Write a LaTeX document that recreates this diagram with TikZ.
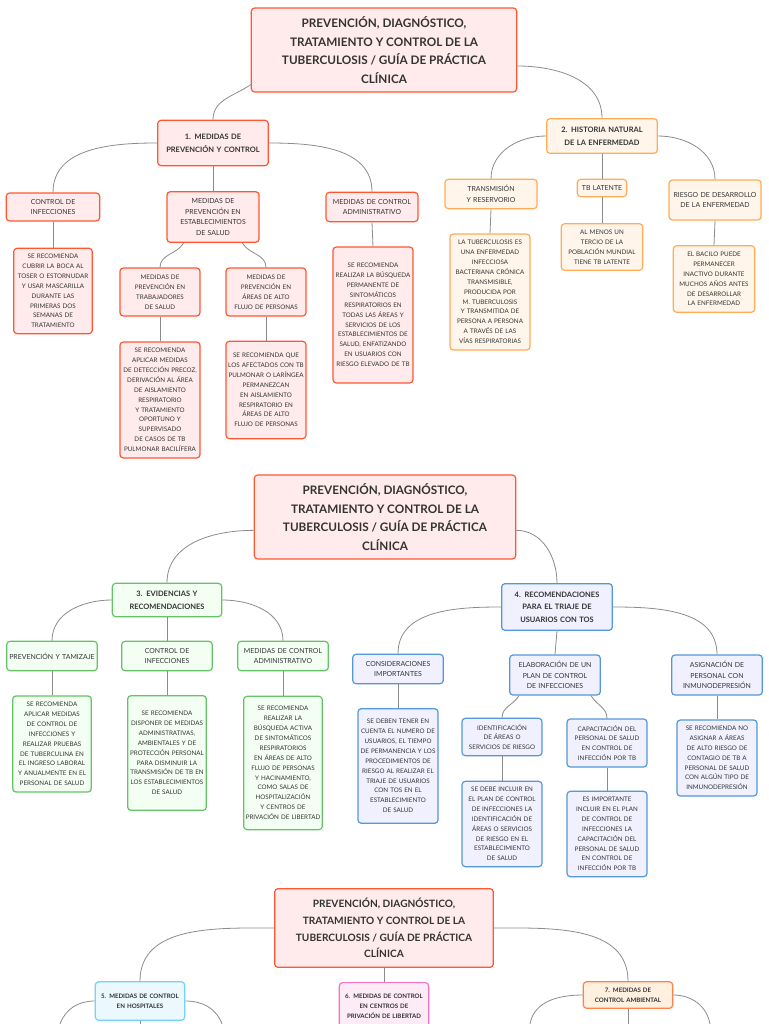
\documentclass[tikz,border=0pt]{standalone}
\usepackage{fontspec}
\setmainfont{Lato}
\hyphenpenalty=10000 \exhyphenpenalty=10000
\begin{document}
\begin{tikzpicture}[x=0.75pt,y=-0.75pt,
  base/.style={rectangle,rounded corners=2.5pt,line width=0.9pt,align=center,inner sep=1.5pt,text=black!80},
  red/.style={base,draw=red!65!orange!80,fill=red!8},
  org/.style={base,draw=orange!65,fill=orange!8},
  grn/.style={base,draw=green!60!black!60,fill=green!5},
  blu/.style={base,draw=cyan!60!blue!70,fill=blue!6},
  cya/.style={base,draw=cyan!55,fill=cyan!8},
  mag/.style={base,draw=magenta!55,fill=magenta!8},
  amb/.style={base,draw=orange!60!red!70,fill=orange!12},
  ttl/.style={font=\fontsize{8.8}{14}\selectfont\bfseries,minimum height=63pt},
  hd/.style={font=\fontsize{5.6}{9.5}\selectfont\bfseries,text width=72pt},
  lv/.style={font=\fontsize{5.2}{8}\selectfont,text width=#1},
  tx/.style={font=\fontsize{4.7}{7.4}\selectfont,text width=#1},
  conn/.style={draw=black!45,line width=0.6pt}]
\useasboundingbox[fill=white] (0,0) rectangle (768,1024);

% ===== Section 1 =====
\node[red,ttl,minimum width=199pt] (T1) at (384,50) {PREVENCIÓN, DIAGNÓSTICO,\\TRATAMIENTO Y CONTROL DE LA\\TUBERCULOSIS / GUÍA DE PRÁCTICA\\CLÍNICA};
\node[red,hd,minimum height=34pt,minimum width=83pt] (A1) at (213,143) {1. MEDIDAS DE PREVENCIÓN Y CONTROL};
\node[org,hd,minimum height=26pt,minimum width=83pt,text width=78pt] (A2) at (602,136) {2. HISTORIA NATURAL DE LA ENFERMEDAD};
\node[red,lv=62pt,minimum height=21pt,minimum width=70pt] (CI) at (53,207) {CONTROL DE INFECCIONES};
\node[red,lv=60pt,minimum height=38pt,minimum width=69pt] (MPE) at (213,217) {MEDIDAS DE PREVENCIÓN EN ESTABLECIMIENTOS DE SALUD};
\node[red,lv=66pt,minimum height=22pt] (MCA) at (372,207) {MEDIDAS DE CONTROL ADMINISTRATIVO};
\node[red,tx=56pt,minimum height=64pt] (CIc) at (53,291) {SE RECOMIENDA CUBRIR LA BOCA AL TOSER O ESTORNUDAR Y USAR MASCARILLA DURANTE LAS PRIMERAS DOS SEMANAS DE TRATAMIENTO};
\node[red,tx=52pt,minimum height=36pt,minimum width=60pt] (MPT) at (160,292) {MEDIDAS DE PREVENCIÓN EN TRABAJADORES DE SALUD};
\node[red,tx=57pt,minimum height=36pt] (MPA) at (266,292) {MEDIDAS DE PREVENCIÓN EN ÁREAS DE ALTO FLUJO DE PERSONAS};
\node[red,tx=57pt,minimum height=87pt] (MPTc) at (160,400) {SE RECOMIENDA APLICAR MEDIDAS DE DETECCIÓN PRECOZ, DERIVACIÓN AL ÁREA DE AISLAMIENTO RESPIRATORIO Y TRATAMIENTO OPORTUNO Y SUPERVISADO DE CASOS DE TB PULMONAR BACILÍFERA};
\node[red,tx=57pt,minimum height=73pt] (MPAc) at (266,390) {SE RECOMIENDA QUE LOS AFECTADOS CON TB PULMONAR O LARÍNGEA PERMANEZCAN EN AISLAMIENTO RESPIRATORIO EN ÁREAS DE ALTO FLUJO DE PERSONAS};
\node[red,tx=57pt,minimum height=102pt] (MCAc) at (373,315) {SE RECOMIENDA REALIZAR LA BÚSQUEDA PERMANENTE DE SINTOMÁTICOS RESPIRATORIOS EN TODAS LAS ÁREAS Y SERVICIOS DE LOS ESTABLECIMIENTOS DE SALUD, ENFATIZANDO EN USUARIOS CON RIESGO ELEVADO DE TB};
\node[org,lv=60pt,minimum height=22pt,minimum width=69pt] (TR) at (491,194) {TRANSMISIÓN Y RESERVORIO};
\node[org,lv=33pt,minimum height=13pt,minimum width=37pt] (TBL) at (602,188) {TB LATENTE};
\node[org,lv=66pt,minimum height=30pt] (RD) at (715,200) {RIESGO DE DESARROLLO DE LA ENFERMEDAD};
\node[org,tx=57pt,minimum height=87pt] (TRc) at (490,292) {LA TUBERCULOSIS ES UNA ENFERMEDAD INFECCIOSA BACTERIANA CRÓNICA TRANSMISIBLE, PRODUCIDA POR M. TUBERCULOSIS Y TRANSMITIDA DE PERSONA A PERSONA A TRAVÉS DE LAS VÍAS RESPIRATORIAS};
\node[org,tx=52pt,minimum height=35pt,minimum width=61pt] (TBLc) at (602,247) {AL MENOS UN TERCIO DE LA POBLACIÓN MUNDIAL TIENE TB LATENTE};
\node[org,tx=52pt,minimum height=50pt,minimum width=61pt] (RDc) at (714,279) {EL BACILO PUEDE PERMANECER INACTIVO DURANTE MUCHOS AÑOS ANTES DE DESARROLLAR LA ENFERMEDAD};

\draw[conn] ([yshift=6]T1.south west) to[out=215,in=90] (A1.north);
\draw[conn] ([yshift=-12]T1.east) to[out=0,in=90] (A2.north);
\draw[conn] (A1.west) to[out=180,in=90] (CI.north);
\draw[conn] (A1.south) -- (MPE.north);
\draw[conn] (A1.east) to[out=0,in=90] (MCA.north);
\draw[conn] (CI.south) -- (CIc.north);
\draw[conn] ([xshift=-22]MPE.south) to[out=-120,in=90] (MPT.north);
\draw[conn] ([xshift=22]MPE.south) to[out=-60,in=90] (MPA.north);
\draw[conn] (MPT.south) -- (MPTc.north);
\draw[conn] (MPA.south) -- (MPAc.north);
\draw[conn] (MCA.south) -- (MCAc.north);
\draw[conn] (A2.west) to[out=180,in=90] (TR.north);
\draw[conn] (A2.south) -- (TBL.north);
\draw[conn] (A2.east) to[out=0,in=90] (RD.north);
\draw[conn] (TR.south) -- (TRc.north);
\draw[conn] (TBL.south) -- (TBLc.north);
\draw[conn] (RD.south) -- (RDc.north);

% ===== Section 2 =====
\node[red,ttl,minimum width=196pt] (T2) at (385,517) {PREVENCIÓN, DIAGNÓSTICO,\\TRATAMIENTO Y CONTROL DE LA\\TUBERCULOSIS / GUÍA DE PRÁCTICA\\CLÍNICA};
\node[grn,hd,minimum height=25pt,minimum width=82pt] (B3) at (167,600) {3. EVIDENCIAS Y RECOMENDACIONES};
\node[blu,hd,minimum height=35pt,minimum width=83pt] (B4) at (557,607) {4. RECOMENDACIONES PARA EL TRIAJE DE USUARIOS CON TOS};
\node[grn,lv=65pt,minimum height=22pt] (PT) at (52,656) {PREVENCIÓN Y TAMIZAJE};
\node[grn,lv=55pt,minimum height=22pt,minimum width=68pt] (CI2) at (167,656) {CONTROL DE INFECCIONES};
\node[grn,lv=62pt,minimum height=22pt,minimum width=68pt] (MC2) at (283,656) {MEDIDAS DE CONTROL ADMINISTRATIVO};
\node[grn,tx=56pt,minimum height=72pt] (PTc) at (52,744) {SE RECOMIENDA APLICAR MEDIDAS DE CONTROL DE INFECCIONES Y REALIZAR PRUEBAS DE TUBERCULINA EN EL INGRESO LABORAL Y ANUALMENTE EN EL PERSONAL DE SALUD};
\node[grn,tx=56pt,minimum height=86pt] (CI2c) at (167,753) {SE RECOMIENDA DISPONER DE MEDIDAS ADMINISTRATIVAS, AMBIENTALES Y DE PROTECCIÓN PERSONAL PARA DISMINUIR LA TRANSMISIÓN DE TB EN LOS ESTABLECIMIENTOS DE SALUD};
\node[grn,tx=56pt,minimum height=100pt] (MC2c) at (283,763) {SE RECOMIENDA REALIZAR LA BÚSQUEDA ACTIVA DE SINTOMÁTICOS RESPIRATORIOS EN ÁREAS DE ALTO FLUJO DE PERSONAS Y HACINAMIENTO, COMO SALAS DE HOSPITALIZACIÓN Y CENTROS DE PRIVACIÓN DE LIBERTAD};
\node[blu,lv=60pt,minimum height=22pt,minimum width=68pt] (CO) at (398,669) {CONSIDERACIONES IMPORTANTES};
\node[blu,lv=60pt,minimum height=30pt,minimum width=68pt] (EP) at (555,675) {ELABORACIÓN DE UN PLAN DE CONTROL DE INFECCIONES};
\node[blu,lv=60pt,minimum height=30pt,minimum width=68pt] (AP) at (717,675) {ASIGNACIÓN DE PERSONAL CON INMUNODEPRESIÓN};
\node[blu,tx=57pt,minimum height=86pt] (COc) at (398,766) {SE DEBEN TENER EN CUENTA EL NUMERO DE USUARIOS, EL TIEMPO DE PERMANENCIA Y LOS PROCEDIMIENTOS DE RIESGO AL REALIZAR EL TRIAJE DE USUARIOS CON TOS EN EL ESTABLECIMIENTO DE SALUD};
\node[blu,tx=57pt,minimum height=28pt] (ID) at (502,737) {IDENTIFICACIÓN DE ÁREAS O SERVICIOS DE RIESGO};
\node[blu,tx=57pt,minimum height=36pt] (CA) at (607,743) {CAPACITACIÓN DEL PERSONAL DE SALUD EN CONTROL DE INFECCIÓN POR TB};
\node[blu,tx=57pt,minimum height=64pt] (IDc) at (502,824) {SE DEBE INCLUIR EN EL PLAN DE CONTROL DE INFECCIONES LA IDENTIFICACIÓN DE ÁREAS O SERVICIOS DE RIESGO EN EL ESTABLECIMIENTO DE SALUD};
\node[blu,tx=57pt,minimum height=64pt] (CAc) at (607,834) {ES IMPORTANTE INCLUIR EN EL PLAN DE CONTROL DE INFECCIONES LA CAPACITACIÓN DEL PERSONAL DE SALUD EN CONTROL DE INFECCIÓN POR TB};
\node[blu,tx=52pt,minimum height=57pt,minimum width=60pt] (APc) at (717,758) {SE RECOMIENDA NO ASIGNAR A ÁREAS DE ALTO RIESGO DE CONTAGIO DE TB A PERSONAL DE SALUD CON ALGÚN TIPO DE INMUNODEPRESIÓN};

\draw[conn] ([yshift=-10]T2.west) to[out=180,in=90] (B3.north);
\draw[conn] ([yshift=-10]T2.east) to[out=0,in=90] (B4.north);
\draw[conn] (B3.west) to[out=180,in=90] (PT.north);
\draw[conn] (B3.south) -- (CI2.north);
\draw[conn] (B3.east) to[out=0,in=90] (MC2.north);
\draw[conn] (PT.south) -- (PTc.north);
\draw[conn] (CI2.south) -- (CI2c.north);
\draw[conn] (MC2.south) -- (MC2c.north);
\draw[conn] (B4.west) to[out=180,in=90] (CO.north);
\draw[conn] (B4.south) -- (EP.north);
\draw[conn] (B4.east) to[out=0,in=90] (AP.north);
\draw[conn] (CO.south) -- (COc.north);
\draw[conn] ([xshift=-27]EP.south) to[out=-120,in=90] (ID.north);
\draw[conn] ([xshift=27]EP.south) to[out=-60,in=90] (CA.north);
\draw[conn] (ID.south) -- (IDc.north);
\draw[conn] (CA.south) -- (CAc.north);
\draw[conn] (AP.south) -- (APc.north);

% ===== Section 3 =====
\node[red,font=\fontsize{7.6}{12.6}\selectfont\bfseries,minimum width=164pt,minimum height=59pt] (T3) at (384,928) {PREVENCIÓN, DIAGNÓSTICO,\\TRATAMIENTO Y CONTROL DE LA\\TUBERCULOSIS / GUÍA DE PRÁCTICA\\CLÍNICA};
\node[cya,font=\fontsize{4.6}{7.6}\selectfont\bfseries,text width=64pt,minimum height=29pt] (C5) at (140,1001) {5. MEDIDAS DE CONTROL EN HOSPITALES};
\node[mag,font=\fontsize{4.6}{7.6}\selectfont\bfseries,text width=64pt,minimum height=36pt,anchor=north] (C6) at (384,982) {6. MEDIDAS DE CONTROL EN CENTROS DE PRIVACIÓN DE LIBERTAD};
\node[amb,font=\fontsize{4.6}{7.6}\selectfont\bfseries,text width=64pt,minimum height=20pt] (C7) at (628,995) {7. MEDIDAS DE CONTROL AMBIENTAL};
\coordinate (e1) at (60,1024);
\coordinate (e2) at (140,1024);
\coordinate (e3) at (222,1024);
\coordinate (e4) at (530,1024);
\coordinate (e5) at (628,1024);
\coordinate (e6) at (710,1024);
\draw[conn] (T3.west) to[out=180,in=90] (C5.north);
\draw[conn] (T3.south) -- (C6.north);
\draw[conn] (T3.east) to[out=0,in=90] (C7.north);
\draw[conn] (C5.west) to[out=180,in=70] (e1);
\draw[conn] (C5.south) -- (e2);
\draw[conn] (C5.east) to[out=0,in=110] (e3);
\draw[conn] (C7.west) to[out=180,in=80] (e4);
\draw[conn] (C7.south) -- (e5);
\draw[conn] (C7.east) to[out=0,in=100] (e6);
\end{tikzpicture}
\end{document}
